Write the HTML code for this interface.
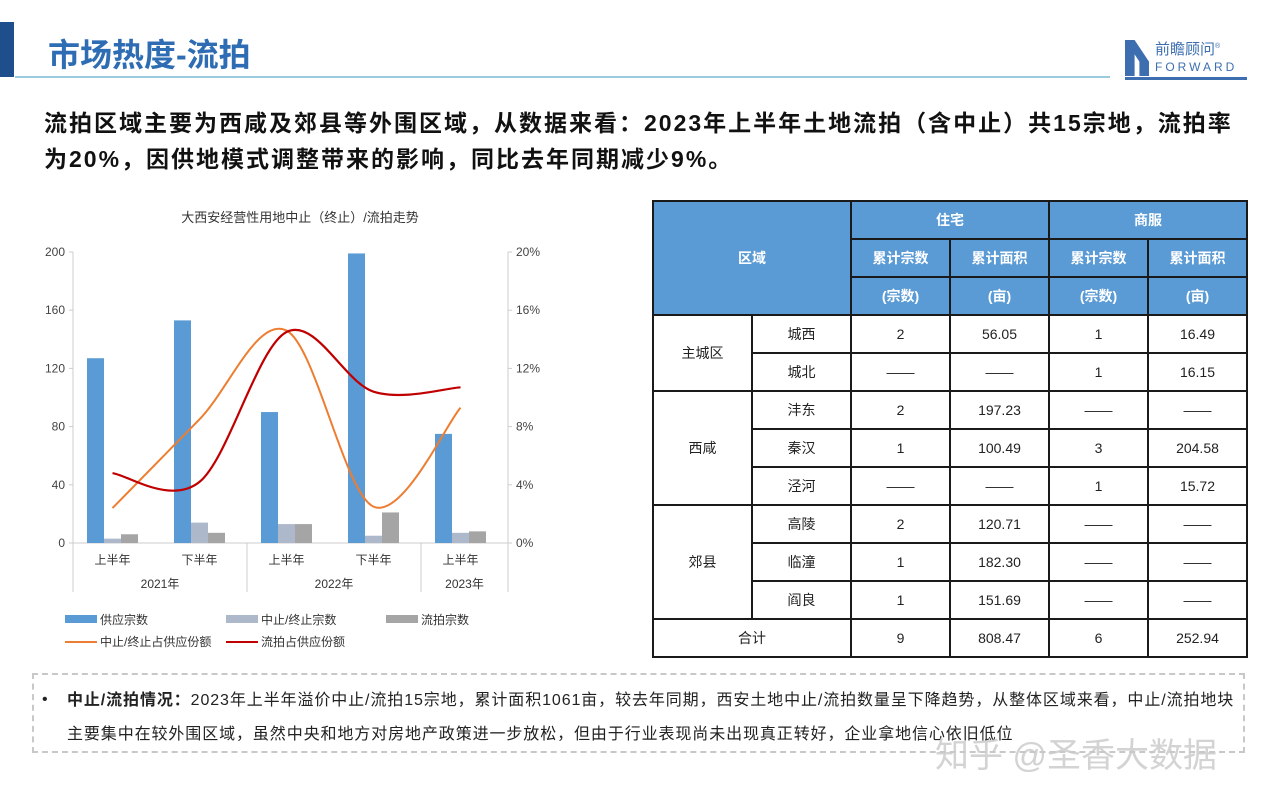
<!DOCTYPE html>
<html><head><meta charset="utf-8">
<style>
body{margin:0;width:1280px;height:799px;background:#fff;position:relative;overflow:hidden;font-family:"Liberation Sans","Noto Sans CJK SC",sans-serif;}
.abs{position:absolute}
table{border-collapse:collapse;position:absolute;left:652px;top:200px;width:596px;font-size:14px;color:#222}
td{border:2px solid #1a1a1a;text-align:center;padding:0;height:36px}
th{background:#5b9bd5;color:#fff;border:2px solid #1a1a1a;font-weight:bold;font-size:14px;height:36px;padding:0}
</style></head><body>
<div class="abs" style="left:0;top:22px;width:14px;height:55px;background:#1f4e8c"></div>
<div class="abs" style="left:48px;top:30px;font-size:32px;font-weight:bold;color:#2e6db4">市场热度-流拍</div>
<div class="abs" style="left:15px;top:76px;width:1095px;height:2px;background:#9ccbe0"></div>
<div class="abs" style="left:1125px;top:38px;width:120px;height:42px">
 <div style="position:absolute;left:0;top:2px;width:24px;height:36px;background:#3d6fb0;clip-path:polygon(0 0,40% 0,100% 60%,100% 100%,60% 100%,60% 60%,40% 40%,40% 100%,0 100%)"></div>
 <div style="position:absolute;left:30px;top:0;font-size:15px;color:#3d6fb0">前瞻顾问<sup style="font-size:7px">®</sup></div>
 <div style="position:absolute;left:30px;top:22px;font-size:12px;letter-spacing:3px;color:#3d6fb0">FORWARD</div>
 <div style="position:absolute;left:0;top:39px;width:122px;height:3px;background:#3d6fb0"></div>
</div>
<div class="abs" style="left:44px;top:105px;width:1230px;font-size:23px;letter-spacing:2px;font-weight:bold;line-height:36px;color:#111;white-space:nowrap">流拍区域主要为西咸及郊县等外围区域，从数据来看：2023年上半年土地流拍（含中止）共15宗地，流拍率<br>为20%，因供地模式调整带来的影响，同比去年同期减少9%。</div>

<svg class="abs" style="left:0;top:0" width="640" height="660" id="chart"></svg>

<table>
<tr><th rowspan="3" colspan="2">区域</th><th colspan="2">住宅</th><th colspan="2">商服</th></tr>
<tr><th style="width:97px">累计宗数</th><th style="width:97px">累计面积</th><th style="width:97px">累计宗数</th><th style="width:97px">累计面积</th></tr>
<tr><th>(宗数)</th><th>(亩)</th><th>(宗数)</th><th>(亩)</th></tr>
<tr><td rowspan="2" style="width:97px">主城区</td><td style="width:97px">城西</td><td>2</td><td>56.05</td><td>1</td><td>16.49</td></tr>
<tr><td>城北</td><td>——</td><td>——</td><td>1</td><td>16.15</td></tr>
<tr><td rowspan="3">西咸</td><td>沣东</td><td>2</td><td>197.23</td><td>——</td><td>——</td></tr>
<tr><td>秦汉</td><td>1</td><td>100.49</td><td>3</td><td>204.58</td></tr>
<tr><td>泾河</td><td>——</td><td>——</td><td>1</td><td>15.72</td></tr>
<tr><td rowspan="3">郊县</td><td>高陵</td><td>2</td><td>120.71</td><td>——</td><td>——</td></tr>
<tr><td>临潼</td><td>1</td><td>182.30</td><td>——</td><td>——</td></tr>
<tr><td>阎良</td><td>1</td><td>151.69</td><td>——</td><td>——</td></tr>
<tr><td colspan="2">合计</td><td>9</td><td>808.47</td><td>6</td><td>252.94</td></tr>
</table>

<div class="abs" style="left:32px;top:673px;width:1213px;height:80px;border:2px dashed #c8c8c8;box-sizing:border-box"></div>
<div class="abs" style="left:42px;top:684px;font-size:16px;line-height:31px;color:#222">•</div>
<div class="abs" style="left:67px;top:684px;width:1180px;font-size:16px;letter-spacing:0.9px;line-height:34px;color:#222;white-space:nowrap"><b>中止/流拍情况：</b>2023年上半年溢价中止/流拍15宗地，累计面积1061亩，较去年同期，西安土地中止/流拍数量呈下降趋势，从整体区域来看，中止/流拍地块<br>主要集中在较外围区域，虽然中央和地方对房地产政策进一步放松，但由于行业表现尚未出现真正转好，企业拿地信心依旧低位</div>
<div class="abs" style="left:935px;top:728px;font-size:34px;color:rgba(200,200,200,0.8)">知乎 @圣香大数据</div>

<script>
const categories=["上半年","下半年","上半年","下半年","上半年"];
const years=["2021年","2022年","2023年"];
const supply=[127,153,90,199,75];
const halted=[3,14,13,5,7];
const unsold=[6,7,13,21,8];
const haltPct=[2.4,8.5,14.6,2.5,9.3];
const unsoldPct=[4.8,4.2,14.5,10.4,10.7];
const leftTicks=[0,40,80,120,160,200];
const rightTicks=[0,4,8,12,16,20];

const svg=document.getElementById('chart');
const NS='http://www.w3.org/2000/svg';
const X0=73,X1=508,Y0=543,Y1=252;
const cw=(X1-X0)/categories.length;
const yL=v=>Y0-(v/200)*(Y0-Y1);
const yR=v=>Y0-(v/20)*(Y0-Y1);
const xc=i=>X0+cw*(i+0.5)-4;
function el(tag,a,txt){const e=document.createElementNS(NS,tag);for(const k in a)e.setAttribute(k,a[k]);if(txt!==undefined)e.textContent=txt;svg.appendChild(e);return e;}
let t=el('text',{x:300,y:222,'text-anchor':'middle','font-size':13,fill:'#333'},'大西安经营性用地中止（终止）/流拍走势');


el('line',{x1:X0,y1:Y1,x2:X0,y2:Y0,stroke:'#ccc'});
el('line',{x1:X1,y1:Y1,x2:X1,y2:Y0,stroke:'#ccc'});
el('line',{x1:X0,y1:Y0,x2:X1,y2:Y0,stroke:'#ccc'});
leftTicks.forEach(v=>{let e=el('text',{x:X0-8,y:yL(v)+4,'text-anchor':'end','font-size':12,fill:'#444'},v);


el('line',{x1:X0-4,y1:yL(v),x2:X0,y2:yL(v),stroke:'#ccc'});});
rightTicks.forEach(v=>{let e=el('text',{x:X1+8,y:yR(v)+4,'font-size':12,fill:'#444'},v+'%');


el('line',{x1:X1,y1:yR(v),x2:X1+4,y2:yR(v),stroke:'#ccc'});});
categories.forEach((c,i)=>{let e=el('text',{x:xc(i),y:564,'text-anchor':'middle','font-size':12,fill:'#333'},c);

});
[X0,X0+2*cw,X0+4*cw,X1].forEach(x=>el('line',{x1:x,y1:Y0,x2:x,y2:592,stroke:'#ccc'}));
const yspan=[[0,2],[2,4],[4,5]];
years.forEach((y,i)=>{const xm=X0+cw*(yspan[i][0]+yspan[i][1])/2;let e=el('text',{x:xm,y:588,'text-anchor':'middle','font-size':12,fill:'#333'},y);

});
const bw=17;
const series=[[supply,'#5b9bd5'],[halted,'#adb9ca'],[unsold,'#a5a5a5']];
series.forEach(([arr,col],s)=>arr.forEach((v,i)=>{const x=xc(i)-1.5*bw+s*bw;
let r=el('rect',{x:x,y:yL(v),width:bw,height:Y0-yL(v),fill:col});

}));
function smooth(pts){let d=`M${pts[0][0]},${pts[0][1]}`;for(let i=0;i<pts.length-1;i++){const p0=pts[i-1]||pts[i],p1=pts[i],p2=pts[i+1],p3=pts[i+2]||p2;
d+=` C${p1[0]+(p2[0]-p0[0])/6},${p1[1]+(p2[1]-p0[1])/6} ${p2[0]-(p3[0]-p1[0])/6},${p2[1]-(p3[1]-p1[1])/6} ${p2[0]},${p2[1]}`;}return d;}
let l1=el('path',{d:smooth(haltPct.map((v,i)=>[xc(i),yR(v)])),fill:'none',stroke:'#ed7d31','stroke-width':2});


let l2=el('path',{d:smooth(unsoldPct.map((v,i)=>[xc(i),yR(v)])),fill:'none',stroke:'#c00000','stroke-width':2.2});


const legend=[['供应宗数','#5b9bd5',65,620,'rect'],['中止/终止宗数','#adb9ca',226,620,'rect'],['流拍宗数','#a5a5a5',386,620,'rect'],['中止/终止占供应份额','#ed7d31',65,642,'line'],['流拍占供应份额','#c00000',226,642,'line']];
legend.forEach(([n,c,x,y,k])=>{
if(k==='rect')el('rect',{x:x,y:y-5,width:32,height:8,fill:c});else el('line',{x1:x,y1:y,x2:x+32,y2:y,stroke:c,'stroke-width':2});
let e=el('text',{x:x+35,y:y+4,'font-size':12,fill:'#333'},n);

});
</script>
</body></html>
